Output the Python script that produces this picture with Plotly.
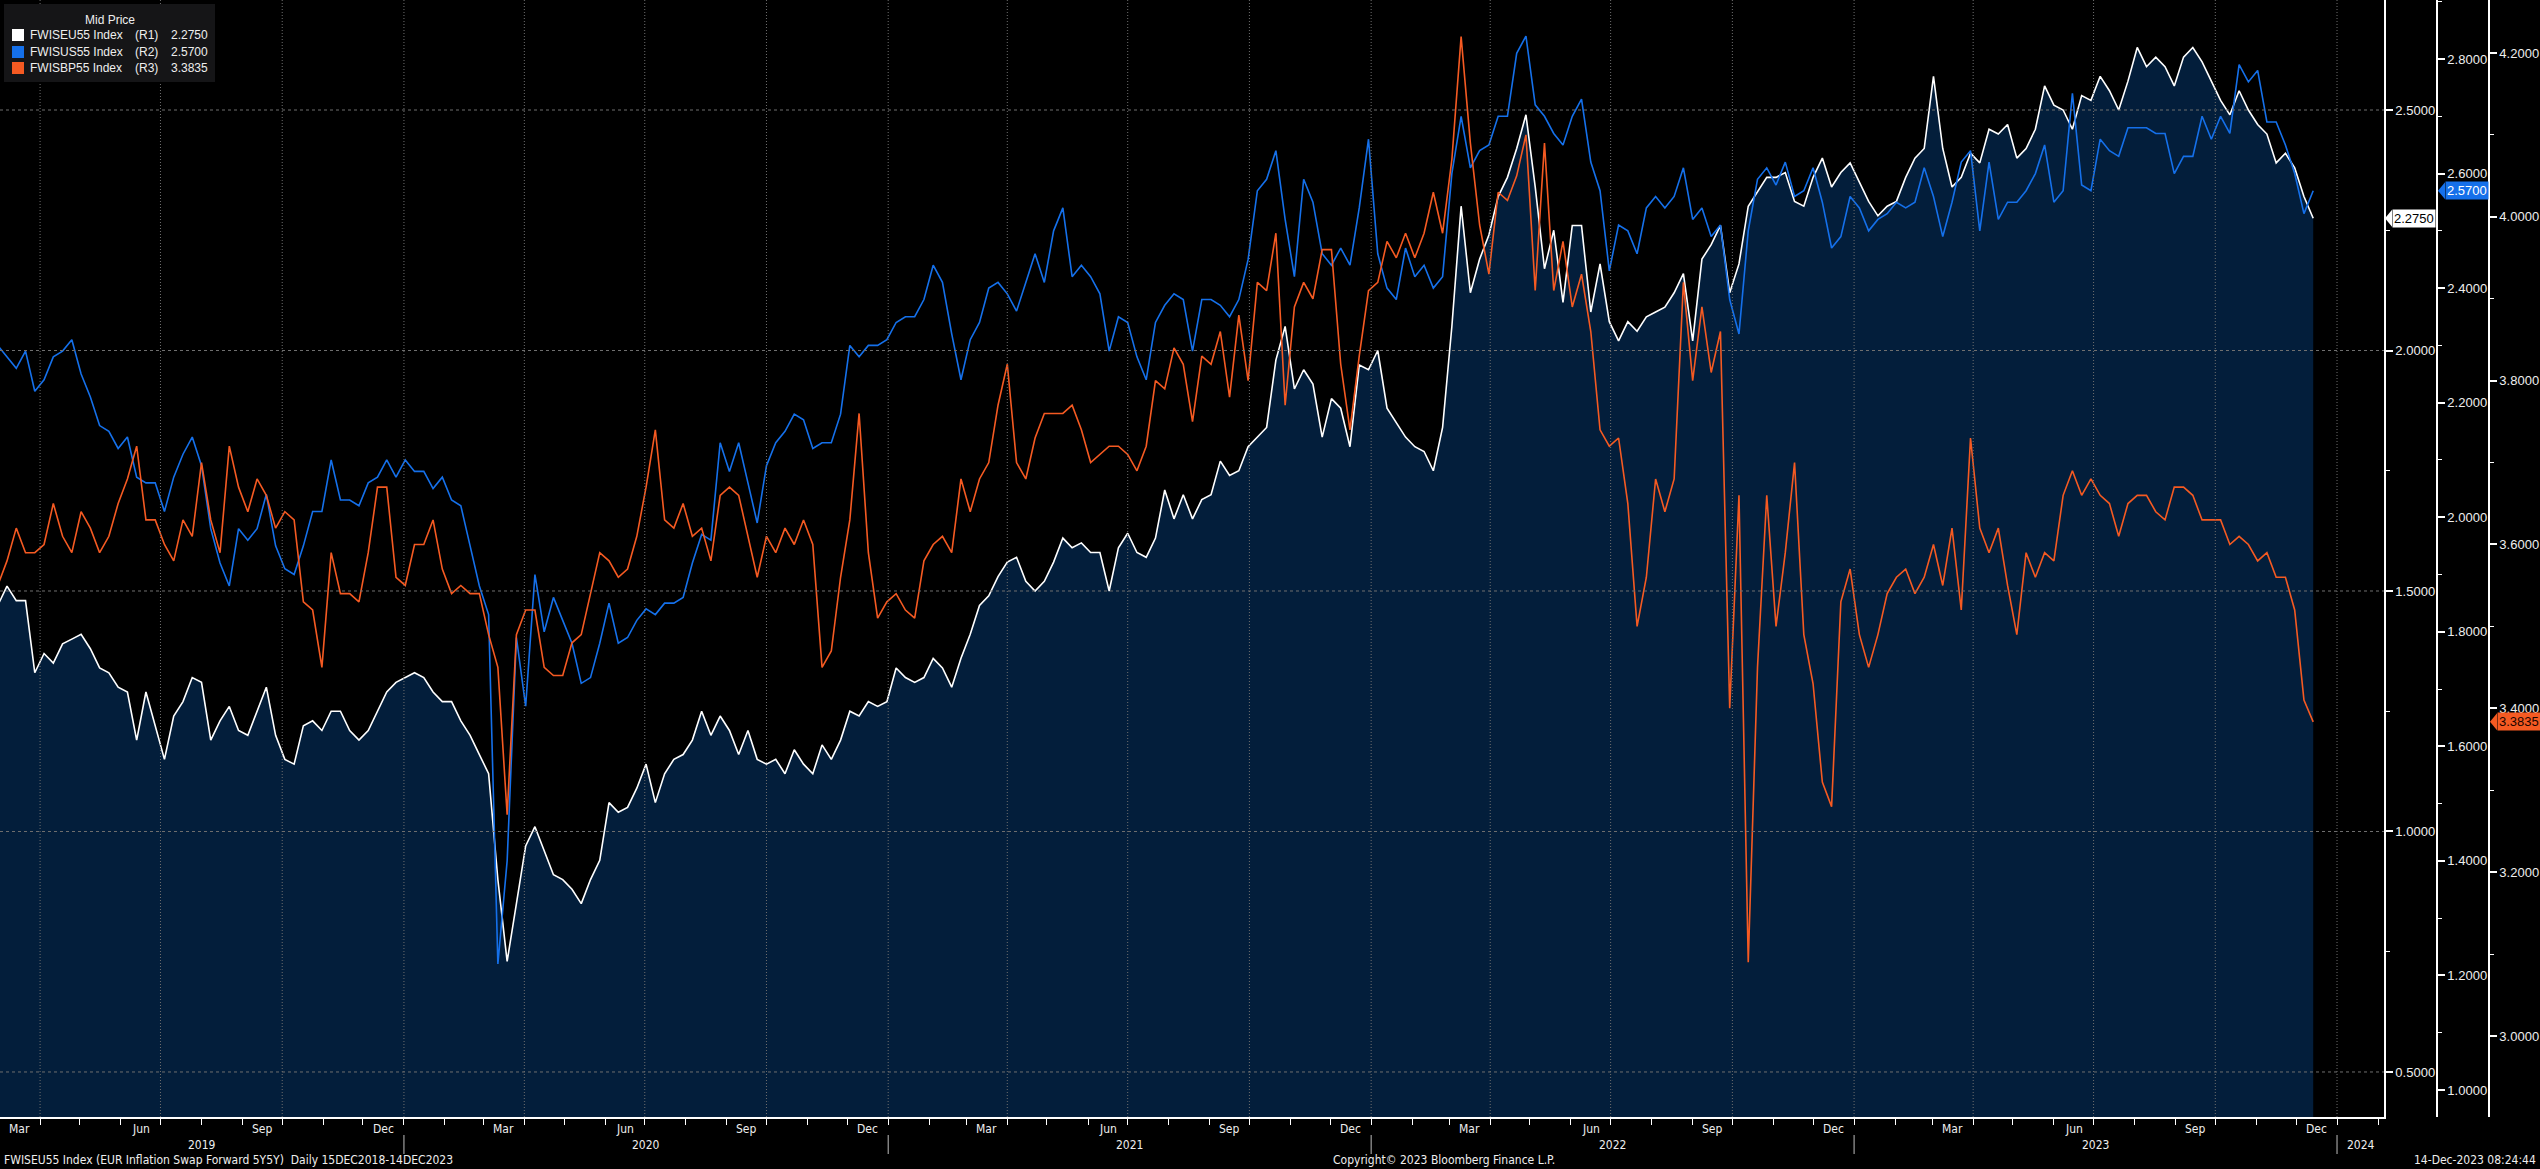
import pandas as pd
import plotly.graph_objects as go

# ---------------- data (weekly readings, 28-Feb-2019 .. 14-Dec-2023) ----------------
dates = pd.date_range("2019-02-28", periods=251, freq="7D")

eur_5y5y = [
    1.47, 1.51, 1.48, 1.48, 1.33, 1.37, 1.35, 1.39, 1.40, 1.41,
    1.38, 1.34, 1.33, 1.30, 1.29, 1.19, 1.29, 1.22, 1.15, 1.24,
    1.27, 1.32, 1.31, 1.19, 1.23, 1.26, 1.21, 1.20, 1.25, 1.30,
    1.20, 1.15, 1.14, 1.22, 1.23, 1.21, 1.25, 1.25, 1.21, 1.19,
    1.21, 1.25, 1.29, 1.31, 1.32, 1.33, 1.32, 1.29, 1.27, 1.27,
    1.23, 1.20, 1.16, 1.12, 0.90, 0.73, 0.85, 0.97, 1.01, 0.96,
    0.91, 0.90, 0.88, 0.85, 0.90, 0.94, 1.06, 1.04, 1.05, 1.09,
    1.14, 1.06, 1.12, 1.15, 1.16, 1.19, 1.25, 1.20, 1.24, 1.21,
    1.16, 1.21, 1.15, 1.14, 1.15, 1.12, 1.17, 1.14, 1.12, 1.18,
    1.15, 1.19, 1.25, 1.24, 1.27, 1.26, 1.27, 1.34, 1.32, 1.31,
    1.32, 1.36, 1.34, 1.30, 1.36, 1.41, 1.47, 1.49, 1.53, 1.56,
    1.57, 1.52, 1.50, 1.52, 1.56, 1.61, 1.59, 1.60, 1.58, 1.58,
    1.50, 1.59, 1.62, 1.58, 1.57, 1.61, 1.71, 1.65, 1.70, 1.65,
    1.69, 1.70, 1.77, 1.74, 1.75, 1.80, 1.82, 1.84, 1.98, 2.05,
    1.92, 1.96, 1.93, 1.82, 1.90, 1.88, 1.80, 1.97, 1.96, 2.00,
    1.88, 1.85, 1.82, 1.80, 1.79, 1.75, 1.84, 2.05, 2.30, 2.12,
    2.19, 2.24, 2.32, 2.36, 2.42, 2.49, 2.34, 2.17, 2.25, 2.10,
    2.26, 2.26, 2.08, 2.18, 2.06, 2.02, 2.06, 2.04, 2.07, 2.08,
    2.09, 2.12, 2.16, 2.02, 2.19, 2.22, 2.26, 2.12, 2.18, 2.30,
    2.33, 2.36, 2.36, 2.37, 2.31, 2.30, 2.36, 2.40, 2.34, 2.37,
    2.39, 2.35, 2.31, 2.28, 2.30, 2.31, 2.36, 2.40, 2.42, 2.57,
    2.42, 2.34, 2.36, 2.41, 2.39, 2.46, 2.45, 2.47, 2.40, 2.42,
    2.46, 2.55, 2.51, 2.50, 2.46, 2.53, 2.52, 2.57, 2.54, 2.50,
    2.56, 2.63, 2.59, 2.61, 2.59, 2.55, 2.61, 2.63, 2.60, 2.56,
    2.52, 2.49, 2.54, 2.50, 2.47, 2.45, 2.39, 2.41, 2.38, 2.32,
    2.2750,
]

usd_5y5y = [
    2.30, 2.28, 2.26, 2.29, 2.22, 2.24, 2.28, 2.29, 2.31, 2.25,
    2.21, 2.16, 2.15, 2.12, 2.14, 2.07, 2.06, 2.06, 2.01, 2.07,
    2.11, 2.14, 2.09, 1.98, 1.92, 1.88, 1.98, 1.96, 1.98, 2.04,
    1.95, 1.91, 1.90, 1.95, 2.01, 2.01, 2.10, 2.03, 2.03, 2.02,
    2.06, 2.07, 2.10, 2.07, 2.10, 2.08, 2.08, 2.05, 2.07, 2.03,
    2.02, 1.95, 1.88, 1.83, 1.22, 1.40, 1.79, 1.67, 1.90, 1.80,
    1.86, 1.82, 1.78, 1.71, 1.72, 1.78, 1.85, 1.78, 1.79, 1.82,
    1.84, 1.83, 1.85, 1.85, 1.86, 1.92, 1.97, 1.96, 2.13, 2.08,
    2.13, 2.06, 1.99, 2.09, 2.13, 2.15, 2.18, 2.17, 2.12, 2.13,
    2.13, 2.18, 2.30, 2.28, 2.30, 2.30, 2.31, 2.34, 2.35, 2.35,
    2.38, 2.44, 2.41, 2.32, 2.24, 2.31, 2.34, 2.40, 2.41, 2.39,
    2.36, 2.41, 2.46, 2.41, 2.50, 2.54, 2.42, 2.44, 2.42, 2.39,
    2.29, 2.35, 2.34, 2.28, 2.24, 2.34, 2.37, 2.39, 2.38, 2.29,
    2.38, 2.38, 2.37, 2.35, 2.38, 2.45, 2.57, 2.59, 2.64, 2.52,
    2.42, 2.59, 2.55, 2.46, 2.44, 2.47, 2.44, 2.54, 2.66, 2.46,
    2.40, 2.38, 2.47, 2.42, 2.44, 2.40, 2.42, 2.60, 2.70, 2.61,
    2.64, 2.65, 2.70, 2.70, 2.81, 2.84, 2.72, 2.70, 2.67, 2.65,
    2.70, 2.73, 2.62, 2.57, 2.43, 2.51, 2.50, 2.46, 2.54, 2.56,
    2.54, 2.56, 2.61, 2.52, 2.54, 2.49, 2.51, 2.38, 2.32, 2.50,
    2.59, 2.61, 2.58, 2.62, 2.56, 2.57, 2.61, 2.55, 2.47, 2.49,
    2.56, 2.54, 2.50, 2.52, 2.53, 2.55, 2.54, 2.55, 2.61, 2.56,
    2.49, 2.55, 2.62, 2.64, 2.50, 2.62, 2.52, 2.55, 2.55, 2.57,
    2.60, 2.65, 2.55, 2.57, 2.74, 2.58, 2.57, 2.66, 2.64, 2.63,
    2.68, 2.68, 2.68, 2.67, 2.67, 2.60, 2.63, 2.63, 2.70, 2.66,
    2.70, 2.67, 2.79, 2.76, 2.78, 2.69, 2.69, 2.65, 2.60, 2.53,
    2.5700,
]

gbp_5y5y = [
    3.55, 3.58, 3.62, 3.59, 3.59, 3.60, 3.65, 3.61, 3.59, 3.64,
    3.62, 3.59, 3.61, 3.65, 3.68, 3.72, 3.63, 3.63, 3.60, 3.58,
    3.63, 3.61, 3.70, 3.63, 3.59, 3.72, 3.67, 3.64, 3.68, 3.66,
    3.62, 3.64, 3.63, 3.53, 3.52, 3.45, 3.59, 3.54, 3.54, 3.53,
    3.59, 3.67, 3.67, 3.56, 3.55, 3.60, 3.60, 3.63, 3.57, 3.54,
    3.55, 3.54, 3.54, 3.49, 3.45, 3.27, 3.49, 3.52, 3.52, 3.45,
    3.44, 3.44, 3.48, 3.49, 3.54, 3.59, 3.58, 3.56, 3.57, 3.61,
    3.67, 3.74, 3.63, 3.62, 3.65, 3.61, 3.62, 3.58, 3.66, 3.67,
    3.66, 3.61, 3.56, 3.61, 3.59, 3.62, 3.60, 3.63, 3.60, 3.45,
    3.47, 3.56, 3.63, 3.76, 3.59, 3.51, 3.53, 3.54, 3.52, 3.51,
    3.58, 3.60, 3.61, 3.59, 3.68, 3.64, 3.68, 3.70, 3.77, 3.82,
    3.70, 3.68, 3.73, 3.76, 3.76, 3.76, 3.77, 3.74, 3.70, 3.71,
    3.72, 3.72, 3.71, 3.69, 3.72, 3.80, 3.79, 3.84, 3.82, 3.75,
    3.83, 3.82, 3.86, 3.78, 3.88, 3.80, 3.92, 3.91, 3.98, 3.77,
    3.89, 3.92, 3.90, 3.96, 3.96, 3.82, 3.74, 3.83, 3.91, 3.92,
    3.97, 3.95, 3.98, 3.95, 3.98, 4.03, 3.98, 4.07, 4.22, 4.09,
    3.99, 3.93, 4.03, 4.02, 4.05, 4.10, 3.91, 4.09, 3.91, 3.97,
    3.89, 3.93, 3.86, 3.74, 3.72, 3.73, 3.65, 3.50, 3.56, 3.68,
    3.64, 3.68, 3.92, 3.80, 3.89, 3.81, 3.86, 3.40, 3.66, 3.09,
    3.45, 3.66, 3.50, 3.59, 3.70, 3.49, 3.43, 3.31, 3.28, 3.53,
    3.57, 3.49, 3.45, 3.49, 3.54, 3.56, 3.57, 3.54, 3.56, 3.60,
    3.55, 3.62, 3.52, 3.73, 3.62, 3.59, 3.62, 3.55, 3.49, 3.59,
    3.56, 3.59, 3.58, 3.66, 3.69, 3.66, 3.68, 3.66, 3.65, 3.61,
    3.65, 3.66, 3.66, 3.64, 3.63, 3.67, 3.67, 3.66, 3.63, 3.63,
    3.63, 3.60, 3.61, 3.60, 3.58, 3.59, 3.56, 3.56, 3.52, 3.41,
    3.3835,
]

names = ["FWISEU55 Index", "FWISUS55 Index", "FWISBP55 Index"]
axis_tags = ["(R1)", "(R2)", "(R3)"]
legend_title = "Mid Price"
month_labels = {3: "Mar", 6: "Jun", 9: "Sep", 12: "Dec"}
footer_left = "FWISEU55 Index (EUR Inflation Swap Forward 5Y5Y)  Daily 15DEC2018-14DEC2023"
footer_mid = "Copyright\u00a9 2023 Bloomberg Finance L.P."
footer_right = "14-Dec-2023 08:24:44"

# ---------------- geometry / style ----------------
W, H = 2540, 1169
MB = 52
PH = H - MB
X_END = 2384
AX_X = [2384, 2437, 2489]
Y_RANGES = [[0.4064, 2.7287], [0.9529, 2.9030], [2.9011, 4.2647]]
DTICK = [0.5, 0.2, 0.2]
MINOR = [0.25, 0.1, 0.1]
COLORS = ["#ffffff", "#1570ea", "#f55a22"]
TAG_TEXT = ["#000000", "#ffffff", "#1a0500"]
FILL = "#031e3b"
GRID = "#6f6f6f"
TXT = "#eeeeee"
FONT = "Liberation Sans, Arial, sans-serif"
NARROW = "Liberation Sans Narrow, Arial Narrow, DejaVu Sans Condensed, Liberation Sans, sans-serif"
X_RANGE = [pd.Timestamp("2019-03-01 17:00"), pd.Timestamp("2024-02-05 12:00")]


def fx(p):
    return p / W


def fy(p):
    return (PH - p) / PH


series = [eur_5y5y, usd_5y5y, gbp_5y5y]
yrefs = ["y", "y2", "y3"]

fig = go.Figure()
for i, (vals, yr) in enumerate(zip(series, yrefs)):
    kw = dict(fill="tozeroy", fillcolor=FILL) if i == 0 else {}
    fig.add_trace(go.Scatter(x=dates, y=vals, yaxis=yr, mode="lines",
                             line=dict(color=COLORS[i], width=1.6),
                             showlegend=False, hoverinfo="skip", **kw))

month_starts = pd.date_range("2019-01-01", "2024-03-01", freq="MS")
in_range = [d for d in month_starts if X_RANGE[0] <= d <= X_RANGE[1]]
quarter_starts = [d for d in in_range if d.month in (1, 4, 7, 10)]


def yaxis_cfg(i):
    d = dict(range=Y_RANGES[i], side="right", showline=True, linecolor="white", linewidth=1.5,
             tickmode="linear", tick0=0, dtick=DTICK[i], tickformat=".4f",
             ticks="outside", ticklen=7, tickwidth=2, tickcolor="white",
             minor=dict(tickmode="linear", tick0=0, dtick=MINOR[i], ticks="outside",
                        ticklen=4, tickwidth=1, tickcolor="white", showgrid=False),
             showgrid=False, zeroline=False, automargin=False,
             tickfont=dict(family=FONT, size=13, color=TXT))
    if i == 0:
        d["anchor"] = "x"
    else:
        d.update(anchor="free", overlaying="y", position=AX_X[i] / W)
    return d


fig.update_layout(
    template="none",
    width=W, height=H,
    margin=dict(l=0, r=0, t=0, b=MB),
    paper_bgcolor="#000000", plot_bgcolor="#000000",
    xaxis=dict(type="date", range=[str(X_RANGE[0]), str(X_RANGE[1])], domain=[0, X_END / W],
               tickmode="array", tickvals=[str(d) for d in quarter_starts], showticklabels=False,
               ticks="outside", ticklen=6, tickcolor="white", tickwidth=1,
               minor=dict(tickmode="array", tickvals=[str(d) for d in in_range], ticks="outside",
                          ticklen=6, tickcolor="white", tickwidth=1, showgrid=False),
               showgrid=False, zeroline=False, showline=True, linecolor="white", linewidth=1.5,
               automargin=False),
    yaxis=yaxis_cfg(0), yaxis2=yaxis_cfg(1), yaxis3=yaxis_cfg(2),
    showlegend=False,
)

shapes = []
annotations = []

# grid lines drawn above the fill (R1 major ticks / quarter starts)
v = 0.0
while v <= Y_RANGES[0][1]:
    if v >= Y_RANGES[0][0]:
        shapes.append(dict(type="line", xref="paper", yref="y", x0=0, x1=fx(X_END), y0=v, y1=v,
                           line=dict(color=GRID, width=1, dash="3px,3px"), layer="above"))
    v += DTICK[0]
for q in quarter_starts:
    shapes.append(dict(type="line", xref="x", yref="paper", x0=str(q), x1=str(q), y0=0, y1=1,
                       line=dict(color=GRID, width=1, dash="1px,2px"), layer="above"))

# month labels (centred in the month)
for d in month_starts:
    if d.month in month_labels:
        nxt = d + pd.offsets.MonthBegin(1)
        mid = d + (nxt - d) / 2
        if X_RANGE[0] <= mid <= X_RANGE[1]:
            annotations.append(dict(x=str(mid), xref="x", y=fy(1129), yref="paper", text=month_labels[d.month],
                                    showarrow=False, xanchor="center", yanchor="middle",
                                    font=dict(family=NARROW, size=12, color=TXT)))

# year labels and separators
years = range(X_RANGE[0].year, X_RANGE[1].year + 1)
for yv in years:
    a = max(pd.Timestamp(f"{yv}-01-01"), X_RANGE[0])
    b = min(pd.Timestamp(f"{yv + 1}-01-01"), X_RANGE[1])
    annotations.append(dict(x=str(a + (b - a) / 2), xref="x", y=fy(1145), yref="paper", text=str(yv),
                            showarrow=False, xanchor="center", yanchor="middle",
                            font=dict(family=NARROW, size=12, color=TXT)))
    j = pd.Timestamp(f"{yv}-01-01")
    if X_RANGE[0] <= j <= X_RANGE[1]:
        shapes.append(dict(type="line", xref="x", yref="paper", x0=str(j), x1=str(j),
                           y0=fy(1135), y1=fy(1154), line=dict(color="#bdbdbd", width=1)))

# last value tags on each axis
for i, vals in enumerate(series):
    last = vals[-1]
    ppu = PH / (Y_RANGES[i][1] - Y_RANGES[i][0])
    h = 8.5 / ppu
    x0 = fx(AX_X[i] + 1)
    x1 = fx(AX_X[i] + 8)
    shapes.append(dict(type="path", xref="paper", yref=yrefs[i],
                       path=f"M {x0},{last} L {x1},{last + h} L {x1},{last - h} Z",
                       fillcolor=COLORS[i], line=dict(width=0), layer="above"))
    annotations.append(dict(x=x1, xref="paper", y=last, yref=yrefs[i], text=f"{last:.4f}",
                            showarrow=False, xanchor="left", yanchor="middle",
                            bgcolor=COLORS[i], borderpad=1,
                            font=dict(family=FONT, size=13, color=TAG_TEXT[i])))

# legend box
shapes.append(dict(type="rect", xref="paper", yref="paper", x0=fx(4), x1=fx(215), y0=fy(82), y1=fy(4),
                   fillcolor="#151517", line=dict(width=0), layer="above"))
annotations.append(dict(x=fx(110), xref="paper", y=fy(20), yref="paper", text=legend_title,
                        showarrow=False, xanchor="center", yanchor="middle",
                        font=dict(family=FONT, size=12, color=TXT)))
row_y = [35, 52, 68]
for i in range(3):
    shapes.append(dict(type="rect", xref="paper", yref="paper", x0=fx(12), x1=fx(24),
                       y0=fy(row_y[i] + 6), y1=fy(row_y[i] - 6),
                       fillcolor=COLORS[i], line=dict(width=0), layer="above"))
    for xp, txt in ((28, names[i]), (133, axis_tags[i]), (169, f"{series[i][-1]:.4f}")):
        annotations.append(dict(x=fx(xp), xref="paper", y=fy(row_y[i]), yref="paper", text=txt,
                                showarrow=False, xanchor="left", yanchor="middle",
                                font=dict(family=FONT, size=12, color=TXT)))

# footer
for xp, anchor, txt in ((2, "left", footer_left), (1444, "center", footer_mid), (2538, "right", footer_right)):
    annotations.append(dict(x=fx(xp), xref="paper", y=fy(1160), yref="paper", text=txt,
                            showarrow=False, xanchor=anchor, yanchor="middle",
                            font=dict(family=NARROW, size=12, color=TXT)))

fig.update_layout(shapes=shapes, annotations=annotations)
fig.write_html("out.html")
